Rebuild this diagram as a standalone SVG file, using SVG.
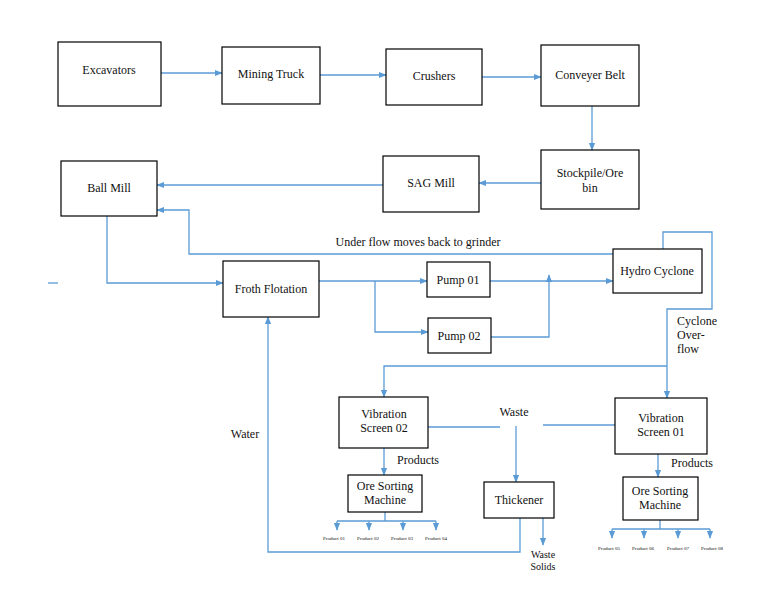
<svg xmlns="http://www.w3.org/2000/svg" width="768" height="594" viewBox="0 0 768 594" font-family="'Liberation Serif', 'DejaVu Serif', serif">
<style>
rect{fill:#fff;stroke:#000;stroke-width:1.2}
text{font-family:'Liberation Serif','DejaVu Serif',serif;font-size:12px;fill:#111;text-anchor:middle}
.s{font-size:5px}
.l{text-anchor:start}
#connectors path{fill:none;stroke:#5b9bd5;stroke-width:1.3}
</style>
<defs><marker id="a" viewBox="0 0 10 10" refX="9" refY="5" markerWidth="6" markerHeight="6" orient="auto"><path d="M0,1 L10,5 L0,9 z" fill="#5b9bd5"/></marker></defs>
<rect width="768" height="594" style="fill:#fff;stroke:none"/>
<g id="connectors">
<path d="M161,73 H222" marker-end="url(#a)"/>
<path d="M320,75 H386" marker-end="url(#a)"/>
<path d="M482,77 H541" marker-end="url(#a)"/>
<path d="M592,106 V150" marker-end="url(#a)"/>
<path d="M541,183 H479" marker-end="url(#a)"/>
<path d="M383,185 H157" marker-end="url(#a)"/>
<path d="M613,254 H189 V210 H157" marker-end="url(#a)"/>
<path d="M107,216 V283 H223" marker-end="url(#a)"/>
<path d="M48,283 H58"/>
<path d="M319,281 H427" marker-end="url(#a)"/>
<path d="M375,281 V332 H428" marker-end="url(#a)"/>
<path d="M490,281 H613" marker-end="url(#a)"/>
<path d="M491,337 H549 V275" marker-end="url(#a)"/>
<path d="M663,249 V232 H712 V309 H667 V398" marker-end="url(#a)"/>
<path d="M667,366 H384 V397" marker-end="url(#a)"/>
<path d="M428,427 H500"/>
<path d="M543,425 H615"/>
<path d="M516,426 V482" marker-end="url(#a)"/>
<path d="M384,448 V475" marker-end="url(#a)"/>
<path d="M658,454 V477" marker-end="url(#a)"/>
<path d="M385,512 V521 M337,521 H436"/>
<path d="M337,521 V530" marker-end="url(#a)"/>
<path d="M369,521 V530" marker-end="url(#a)"/>
<path d="M403,521 V530" marker-end="url(#a)"/>
<path d="M436,521 V530" marker-end="url(#a)"/>
<path d="M660,520 V529 M612,529 H710"/>
<path d="M612,529 V538" marker-end="url(#a)"/>
<path d="M644,529 V538" marker-end="url(#a)"/>
<path d="M678,529 V538" marker-end="url(#a)"/>
<path d="M710,529 V538" marker-end="url(#a)"/>
<path d="M520,518 V552 H268 V317" marker-end="url(#a)"/>
<path d="M543,518 V545" marker-end="url(#a)"/>
</g>
<g id="excavators"><rect x="58" y="42" width="103" height="64"/><text x="109" y="74">Excavators</text></g>
<g id="mining-truck"><rect x="222" y="47" width="98" height="57"/><text x="271" y="78">Mining Truck</text></g>
<g id="crushers"><rect x="386" y="49" width="96" height="56"/><text x="434" y="80">Crushers</text></g>
<g id="conveyer-belt"><rect x="541" y="45" width="98" height="61"/><text x="590" y="79">Conveyer Belt</text></g>
<g id="stockpile"><rect x="541" y="150" width="98" height="59"/><text x="590" y="177">Stockpile/Ore</text><text x="590" y="192">bin</text></g>
<g id="sag-mill"><rect x="383" y="156" width="96" height="56"/><text x="431" y="187">SAG Mill</text></g>
<g id="ball-mill"><rect x="61" y="161" width="96" height="55"/><text x="109" y="192">Ball Mill</text></g>
<g id="froth-flotation"><rect x="223" y="261" width="96" height="56"/><text x="271" y="293">Froth Flotation</text></g>
<g id="pump-01"><rect x="427" y="262" width="63" height="35"/><text x="458" y="284">Pump 01</text></g>
<g id="pump-02"><rect x="428" y="318" width="63" height="35"/><text x="459" y="340">Pump 02</text></g>
<g id="hydro-cyclone"><rect x="613" y="249" width="89" height="44"/><text x="657" y="275">Hydro Cyclone</text></g>
<g id="vibration-screen-02"><rect x="339" y="397" width="89" height="51"/><text x="384" y="418">Vibration</text><text x="384" y="432">Screen 02</text></g>
<g id="vibration-screen-01"><rect x="615" y="398" width="92" height="56"/><text x="661" y="422">Vibration</text><text x="661" y="436">Screen 01</text></g>
<g id="ore-sorting-left"><rect x="348" y="475" width="74" height="37"/><text x="385" y="490">Ore Sorting</text><text x="385" y="504">Machine</text></g>
<g id="thickener"><rect x="484" y="482" width="70" height="36"/><text x="519" y="504">Thickener</text></g>
<g id="ore-sorting-right"><rect x="623" y="477" width="75" height="43"/><text x="660" y="495">Ore Sorting</text><text x="660" y="509">Machine</text></g>
<g id="labels">
<text x="418" y="246">Under flow moves back to grinder</text>
<text class="l" x="677" y="325">Cyclone</text><text class="l" x="677" y="339">Over-</text><text class="l" x="677" y="353">flow</text>
<text x="514" y="416">Waste</text>
<text x="245" y="438">Water</text>
<text x="418" y="464">Products</text>
<text x="692" y="467">Products</text>
<text x="543" y="558" style="font-size:10px">Waste</text><text x="543" y="570" style="font-size:10px">Solids</text>
<text class="s" x="334" y="540">Product 01</text><text class="s" x="368" y="540">Product 02</text><text class="s" x="402" y="540">Product 03</text><text class="s" x="436" y="540">Product 04</text>
<text class="s" x="609" y="550">Product 05</text><text class="s" x="643" y="550">Product 06</text><text class="s" x="678" y="550">Product 07</text><text class="s" x="712" y="550">Product 08</text>
</g>
</svg>
